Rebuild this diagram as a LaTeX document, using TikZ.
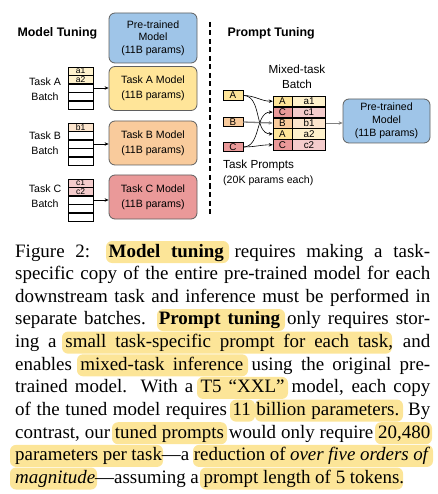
\documentclass[tikz,border=0pt]{standalone}
\usepackage{fontspec}
\setmainfont{Liberation Sans}
\newfontfamily\capfont{Liberation Serif}
\usepackage{xcolor}
\usetikzlibrary{positioning, calc, arrows.meta}

\definecolor{ptblue}{HTML}{9FC5E8}
\definecolor{taskA}{HTML}{FFE599}
\definecolor{taskAl}{HTML}{FFF2CC}
\definecolor{taskB}{HTML}{F9CB9C}
\definecolor{taskBl}{HTML}{FCE5CD}
\definecolor{taskC}{HTML}{EA9999}
\definecolor{taskCl}{HTML}{F4CCCC}
\definecolor{boxgray}{HTML}{5F5F5F}
\definecolor{hlyellow}{RGB}{252,229,152}

\tikzset{
  model/.style={draw=boxgray, line width=0.8pt, rounded corners=6pt, align=center,
    minimum width=88pt, minimum height=44pt, inner sep=1pt},
  cell/.style={draw, line width=0.5pt, minimum width=25pt, minimum height=8pt,
    inner sep=0pt, font=\fontsize{8.5}{8.5}\selectfont},
  tagcell/.style={draw, line width=0.5pt, minimum width=19pt, minimum height=10.4pt,
    inner sep=0pt, font=\fontsize{9.8}{9.8}\selectfont},
  datacell/.style={tagcell, minimum width=33pt},
  prompt/.style={draw, line width=0.5pt, minimum width=20pt, minimum height=9.5pt,
    inner sep=0pt, font=\fontsize{9.8}{9.8}\selectfont},
  arr/.style={-{Stealth[length=4pt,width=3.5pt]}, line width=0.6pt},
  heading/.style={anchor=west, font=\bfseries\fontsize{12.4}{14}\selectfont},
  batchlab/.style={align=center, font=\fontsize{10.6}{15}\selectfont},
  hl/.style={fill=hlyellow, rounded corners=6pt},
  capline/.style={anchor=base west, inner sep=0pt, font=\capfont\fontsize{18.95}{22.7}\selectfont}
}

\begin{document}
\begin{tikzpicture}[x=1pt, y=-1pt]
    \useasboundingbox (0,0) rectangle (437,494);

    % Model tuning side
    \node[heading] (mtitle) at (14,33) {Model Tuning};
    \node[model, fill=ptblue, minimum height=50pt, font=\fontsize{10.6}{12.5}\selectfont] (preL) at (153,38) {Pre-trained\\Model\\(11B params)};
    \node[model, fill=taskA, font=\fontsize{10.6}{15}\selectfont] (modA) at (153,88.5) {Task A Model\\(11B params)};
    \node[model, fill=taskB, font=\fontsize{10.6}{15}\selectfont] (modB) at (153,143) {Task B Model\\(11B params)};
    \node[model, fill=taskC, font=\fontsize{10.6}{15}\selectfont] (modC) at (153,197) {Task C Model\\(11B params)};

    % Task A batch
    \node[batchlab] (labA) at (45,89) {Task A\\Batch};
    \node[cell, fill=taskAl] (a1) at (80.5,71) {a1};
    \node[cell, fill=taskAl, below=0pt of a1] (a2) {a2};
    \node[cell, below=0pt of a2] (a3) {};
    \node[cell, below=0pt of a3] (a4) {};
    \node[cell, below=0pt of a4] (a5) {};
    \draw[arr] (a3.east) -- (a3.east -| modA.west);

    % Task B batch
    \node[batchlab] (labB) at (45,143.5) {Task B\\Batch};
    \node[cell, fill=taskBl] (b1) at (80.5,127) {b1};
    \node[cell, below=0pt of b1] (b2) {};
    \node[cell, below=0pt of b2] (b3) {};
    \node[cell, below=0pt of b3] (b4) {};
    \node[cell, below=0pt of b4] (b5) {};
    \draw[arr] (b3.east) -- (b3.east -| modB.west);

    % Task C batch
    \node[batchlab] (labC) at (45,196.5) {Task C\\Batch};
    \node[cell, fill=taskCl] (c1) at (80.5,183) {c1};
    \node[cell, fill=taskCl, below=0pt of c1] (c2) {c2};
    \node[cell, below=0pt of c2] (c3) {};
    \node[cell, below=0pt of c3] (c4) {};
    \node[cell, below=0pt of c4] (c5) {};
    \draw[arr] (c3.east) -- (c3.east -| modC.west);

    % divider
    \draw[line width=2pt, dash pattern=on 5pt off 3.5pt] (210,22) -- (210,217);

    % Prompt tuning side
    \node[heading] (ptitle) at (224,33) {Prompt Tuning};
    \node[align=center, font=\fontsize{11.7}{15}\selectfont] (mixlab) at (297,76.5) {Mixed-task\\Batch};

    \node[tagcell, fill=taskA] (m1) at (282.5,101.2) {A};
    \node[tagcell, fill=taskC, below=0pt of m1] (m2) {C};
    \node[tagcell, fill=taskB, below=0pt of m2] (m3) {B};
    \node[tagcell, fill=taskA, below=0pt of m3] (m4) {A};
    \node[tagcell, fill=taskC, below=0pt of m4] (m5) {C};
    \node[datacell, fill=taskAl, right=0pt of m1] (d1) {a1};
    \node[datacell, fill=taskCl, right=0pt of m2] (d2) {c1};
    \node[datacell, fill=taskBl, right=0pt of m3] (d3) {b1};
    \node[datacell, fill=taskAl, right=0pt of m4] (d4) {a2};
    \node[datacell, fill=taskCl, right=0pt of m5] (d5) {c2};

    \node[prompt, fill=taskA] (pA) at (233,95.5) {A};
    \node[prompt, fill=taskB] (pB) at (233,122) {B};
    \node[prompt, fill=taskC] (pC) at (233,147) {C};

    \draw[arr] (pA.east) to[out=0, in=180] (m1.west);
    \draw[arr] (pA.east) to[out=0, in=180] (m4.west);
    \draw[arr, draw=gray, line width=1.3pt] (pB.east) -- (m3.west);
    \draw[arr] (pC.east) to[out=0, in=180] (m2.west);
    \draw[arr] (pC.east) to[out=0, in=180] (m5.west);

    \node[model, fill=ptblue, minimum width=87pt, font=\fontsize{10.6}{13}\selectfont] (preR) at (386.5,121) {Pre-trained\\Model\\(11B params)};
    \draw[arr, draw=gray] (d3.east) -- (d3.east -| preR.west);

    \node[anchor=base west, inner sep=0pt, font=\fontsize{11.7}{14}\selectfont] (tprompts) at (223,169) {Task Prompts};
    \node[anchor=base west, inner sep=0pt, font=\fontsize{10.6}{13}\selectfont] (tparams) at (223,183) {(20K params each)};

    % caption highlights
    \fill[hl] (106,241) rectangle (229,263);
    \fill[hl] (157,309) rectangle (285,331);
    \fill[hl] (62,331.6) rectangle (392,353.6);
    \fill[hl] (77,354.3) rectangle (248,376.3);
    \fill[hl] (197,376.9) rectangle (288,398.9);
    \fill[hl] (230,399.6) rectangle (255,421.6);
    \fill[hl] (255,399.6) rectangle (403,421.6);
    \fill[hl] (112,422.2) rectangle (227,444.2);
    \fill[hl] (375,422.2) rectangle (432,444.2);
    \fill[hl] (10,444.9) rectangle (163,466.9);
    \fill[hl] (193,444.9) rectangle (433,466.9);
    \fill[hl] (10,467.5) rectangle (97,489.5);
    \fill[hl] (200,467.5) rectangle (403,489.5);

    % caption text
    \node[capline] (cap1) at (15,257) {\makebox[415pt][s]{Figure 2: \textbf{Model tuning} requires making a task-}};
    \node[capline] (cap2) at (15,279.65) {\makebox[415pt][s]{specific copy of the entire pre-trained model for each}};
    \node[capline] (cap3) at (15,302.3) {\makebox[415pt][s]{downstream task and inference must be performed in}};
    \node[capline] (cap4) at (15,324.95) {\makebox[415pt][s]{separate batches. \textbf{Prompt tuning} only requires stor-}};
    \node[capline] (cap5) at (15,347.6) {\makebox[415pt][s]{ing a small task-specific prompt for each task, and}};
    \node[capline] (cap6) at (15,370.25) {\makebox[415pt][s]{enables mixed-task inference using the original pre-}};
    \node[capline] (cap7) at (15,392.9) {\makebox[415pt][s]{trained model. With a T5 “XXL” model, each copy}};
    \node[capline] (cap8) at (15,415.55) {\makebox[415pt][s]{of the tuned model requires 11 billion parameters. By}};
    \node[capline] (cap9) at (15,438.2) {\makebox[415pt][s]{contrast, our tuned prompts would only require 20,480}};
    \node[capline] (cap10) at (15,460.85) {\makebox[415pt][s]{parameters per task—a reduction of \textit{over five orders of}}};
    \node[capline] (cap11) at (15,483.5) {\textit{magnitude}—assuming a prompt length of 5 tokens.};

\end{tikzpicture}
\end{document}
